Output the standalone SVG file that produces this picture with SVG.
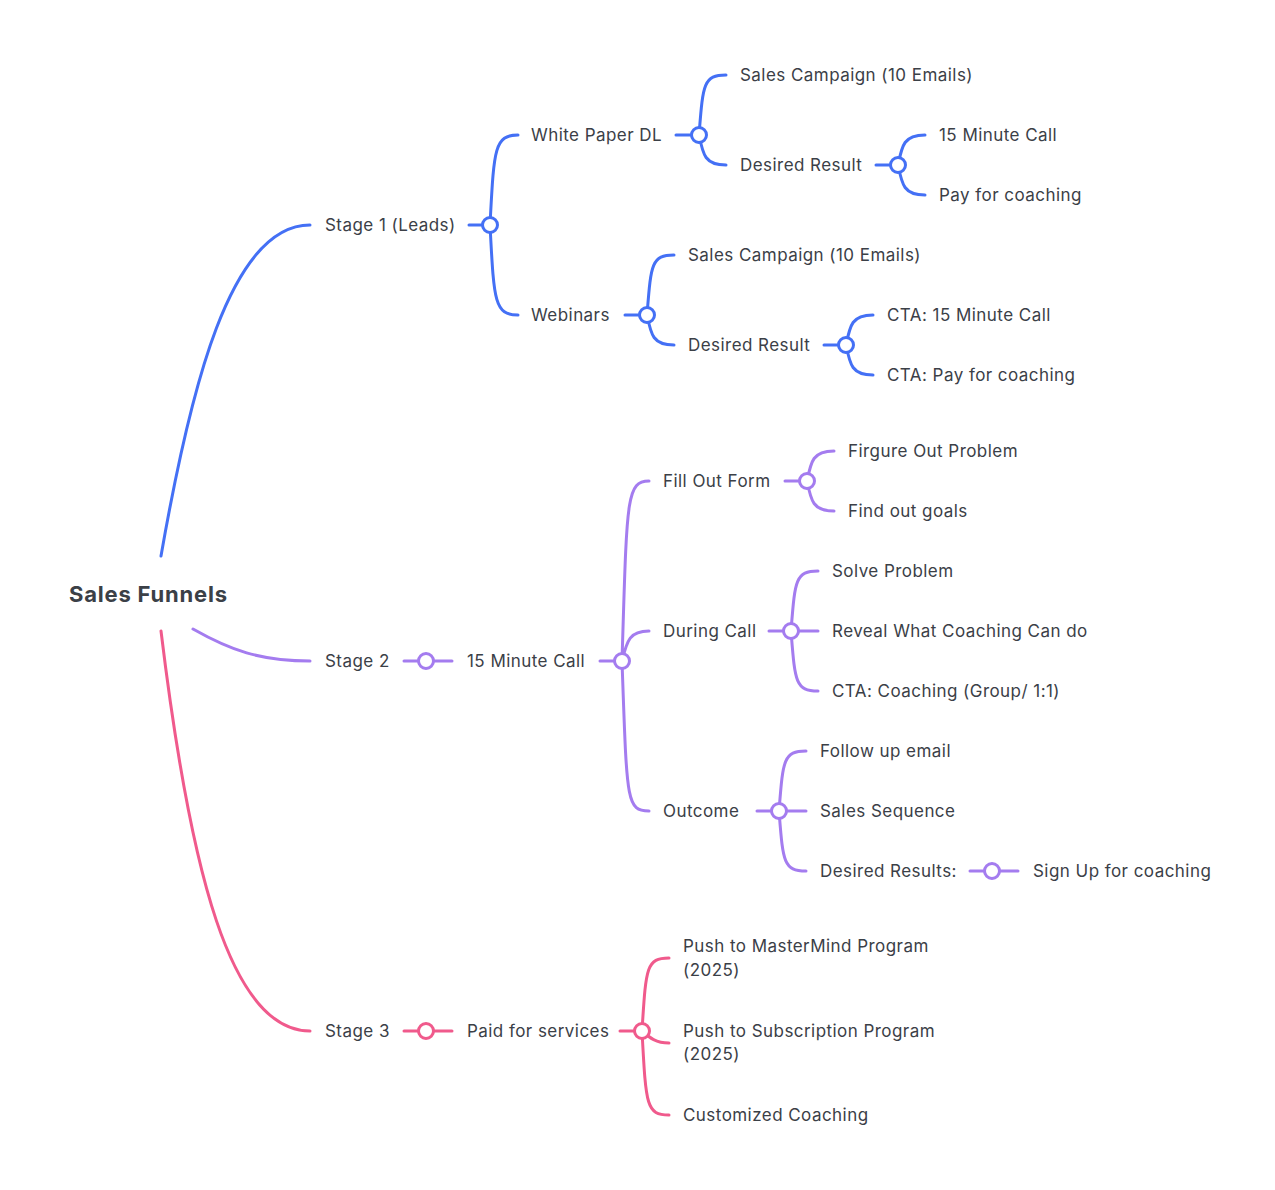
<svg xmlns="http://www.w3.org/2000/svg" width="1275" height="1190" viewBox="0 0 1275 1190">
<style>
text{font-family:Inter,"Noto Sans",sans-serif;font-size:17px;letter-spacing:0.45px;fill:#3b4047}
.root{font-size:22px;font-weight:bold;letter-spacing:0.8px}
path{fill:none;stroke-width:3;stroke-linecap:round}
.b{stroke:#4470f5}.p{stroke:#a47cef}.k{stroke:#f05a8c}
circle{fill:#fff;stroke-width:3}
</style>
<rect width="1275" height="1190" fill="#fff"/>
<g id="connectors">
<path class="b" d="M161,556 C190,390 230,225 310,225"/>
<path class="p" d="M193,629 C230,650 260,661 310,661"/>
<path class="k" d="M161,631 C190,870 230,1031 310,1031"/>
<path class="b" d="M469,225 H490 M490,225 C494,150 494,135 518,135 M490,225 C494,300 494,315 518,315"/>
<path class="b" d="M676,135 H699 M699,135 C703,85 703,75 726,75 M699,135 C703,155 705,165 726,165"/>
<path class="b" d="M876,165 H898 M898,165 C902,145 904,135 925,135 M898,165 C902,185 904,195 925,195"/>
<path class="b" d="M625,315 H647 M647,315 C651,265 651,255 674,255 M647,315 C651,335 653,345 674,345"/>
<path class="b" d="M824,345 H846 M846,345 C850,325 852,315 873,315 M846,345 C850,365 852,375 873,375"/>
<path class="p" d="M404,661 H452"/>
<path class="p" d="M600,661 H622 M622,661 C627,500 626,481 649,481 M622,661 C627,640 630,631 649,631 M622,661 C627,800 626,811 649,811"/>
<path class="p" d="M785,481 H807 M807,481 C811,461 813,451 834,451 M807,481 C811,501 813,511 834,511"/>
<path class="p" d="M769,631 H818 M791,631 C795,581 795,571 818,571 M791,631 C795,681 795,691 818,691"/>
<path class="p" d="M757,811 H806 M779,811 C783,761 783,751 806,751 M779,811 C783,861 783,871 806,871"/>
<path class="p" d="M970,871 H1018"/>
<path class="k" d="M404,1031 H452"/>
<path class="k" d="M620,1031 H642 M642,1031 C646,968 646,958 669,958 M642,1031 C650,1038 656,1043 669,1043 M642,1031 C646,1105 646,1115 669,1115"/>
</g>
<g id="root"><text class="root" x="69" y="602">Sales Funnels</text></g>
<g id="stage1"><text x="325" y="231">Stage 1 (Leads)</text><circle class="b" cx="490" cy="225" r="7.5"/></g>
<g id="wp"><text x="531" y="141">White Paper DL</text><circle class="b" cx="699" cy="135" r="7.5"/></g>
<g id="wp-sc"><text x="740" y="81">Sales Campaign (10 Emails)</text></g>
<g id="wp-dr"><text x="740" y="171">Desired Result</text><circle class="b" cx="898" cy="165" r="7.5"/></g>
<g id="wp-call"><text x="939" y="141">15 Minute Call</text></g>
<g id="wp-pay"><text x="939" y="201">Pay for coaching</text></g>
<g id="web"><text x="531" y="321">Webinars</text><circle class="b" cx="647" cy="315" r="7.5"/></g>
<g id="web-sc"><text x="688" y="261">Sales Campaign (10 Emails)</text></g>
<g id="web-dr"><text x="688" y="351">Desired Result</text><circle class="b" cx="846" cy="345" r="7.5"/></g>
<g id="web-call"><text x="887" y="321">CTA: 15 Minute Call</text></g>
<g id="web-pay"><text x="887" y="381">CTA: Pay for coaching</text></g>
<g id="stage2"><text x="325" y="667">Stage 2</text><circle class="p" cx="426" cy="661" r="7.5"/></g>
<g id="call"><text x="467" y="667">15 Minute Call</text><circle class="p" cx="622" cy="661" r="7.5"/></g>
<g id="form"><text x="663" y="487">Fill Out Form</text><circle class="p" cx="807" cy="481" r="7.5"/></g>
<g id="form1"><text x="848" y="457">Firgure Out Problem</text></g>
<g id="form2"><text x="848" y="517">Find out goals</text></g>
<g id="during"><text x="663" y="637">During Call</text><circle class="p" cx="791" cy="631" r="7.5"/></g>
<g id="d1"><text x="832" y="577">Solve Problem</text></g>
<g id="d2"><text x="832" y="637">Reveal What Coaching Can do</text></g>
<g id="d3"><text x="832" y="697">CTA: Coaching (Group/ 1:1)</text></g>
<g id="outcome"><text x="663" y="817">Outcome</text><circle class="p" cx="779" cy="811" r="7.5"/></g>
<g id="o1"><text x="820" y="757">Follow up email</text></g>
<g id="o2"><text x="820" y="817">Sales Sequence</text></g>
<g id="o3"><text x="820" y="877">Desired Results:</text><circle class="p" cx="992" cy="871" r="7.5"/></g>
<g id="o3a"><text x="1033" y="877">Sign Up for coaching</text></g>
<g id="stage3"><text x="325" y="1037">Stage 3</text><circle class="k" cx="426" cy="1031" r="7.5"/></g>
<g id="paid"><text x="467" y="1037">Paid for services</text><circle class="k" cx="642" cy="1031" r="7.5"/></g>
<g id="p1"><text x="683" y="952">Push to MasterMind Program</text><text x="683" y="976">(2025)</text></g>
<g id="p2"><text x="683" y="1037">Push to Subscription Program</text><text x="683" y="1060">(2025)</text></g>
<g id="p3"><text x="683" y="1121">Customized Coaching</text></g>
</svg>
